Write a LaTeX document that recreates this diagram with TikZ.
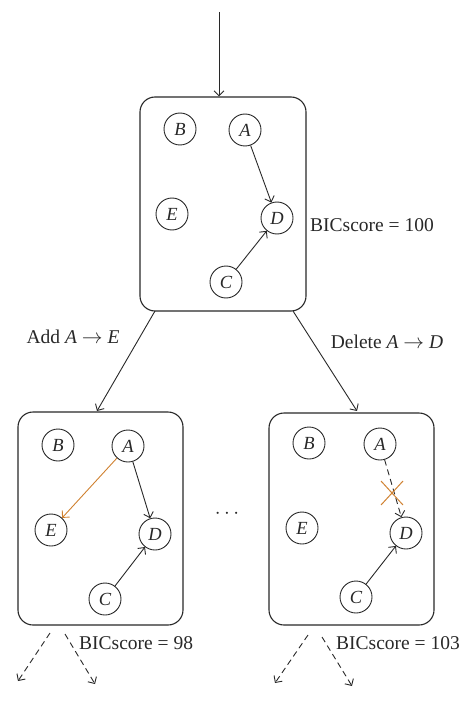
\documentclass[tikz,border=0pt]{standalone}
\usepackage{fontspec}
\setmainfont{Liberation Serif}
\usetikzlibrary{arrows.meta,calc}
\definecolor{edgeorange}{RGB}{208,130,50}
\definecolor{ink}{RGB}{40,40,40}
\tikzset{
  every picture/.style={x=1pt,y=-1pt},
  var/.style={draw=ink,text=ink,circle,line width=0.9pt,minimum size=32pt,inner sep=0pt,font=\fontsize{18.5}{20}\selectfont\itshape},
  box/.style={draw=ink,rounded corners=15pt,line width=1.1pt},
  arr/.style={draw=ink,line width=0.9pt,-{Straight Barb[length=5pt,width=10pt]}},
  dasharr/.style={arr,dashed,dash pattern=on 6pt off 4pt},
  lab/.style={text=ink,font=\fontsize{19.5}{22}\selectfont,inner sep=0pt}
}
\begin{document}
\begin{tikzpicture}
\useasboundingbox (0,0) rectangle (474,703);
% boxes
\node[box,minimum width=166pt,minimum height=214pt] (tb) at (223,204) {};
\node[box,minimum width=165pt,minimum height=213pt] (lb) at (100.5,518.5) {};
\node[box,minimum width=165pt,minimum height=212pt] (rb) at (351.5,519) {};
% top arrow
\coordinate (start) at (219,12);
\draw[arr] (start) -- (start |- tb.north);
% top box nodes
\node[var] (tB) at (180,129) {B};
\node[var] (tA) at (245,130) {A};
\node[var] (tE) at (172,214) {E};
\node[var] (tD) at (277,218) {D};
\node[var] (tC) at (226,282) {C};
\draw[arr] (tA) -- (tD);
\draw[arr] (tC) -- (tD);
\node[lab,anchor=west] (tscore) at (310,225) {BICscore = 100};
% branches
\coordinate (l1) at (155,311);
\coordinate (l2) at (97,411);
\coordinate (r1) at (293,311);
\coordinate (r2) at (357,411);
\draw[arr] (l1) -- (l2);
\draw[arr] (r1) -- (r2);
\node[lab] (addlab) at (73,337) {Add \textit{A} $\rightarrow$ \textit{E}};
\node[lab] (dellab) at (387,342) {Delete \textit{A} $\rightarrow$ \textit{D}};
% left box nodes
\node[var] (lB) at (58,445) {B};
\node[var] (lA) at (128,446) {A};
\node[var] (lE) at (51,530) {E};
\node[var] (lD) at (155,534) {D};
\node[var] (lC) at (105,599) {C};
\draw[arr,draw=edgeorange] (lA) -- (lE);
\draw[arr] (lA) -- (lD);
\draw[arr] (lC) -- (lD);
\node[lab,anchor=west] (lscore) at (79,643) {BICscore = 98};
% dots
\node[lab] (dots) at (227,514) {$\cdots$};
% right box nodes
\node[var] (rB) at (309,443) {B};
\node[var] (rA) at (380,444) {A};
\node[var] (rE) at (302,528) {E};
\node[var] (rD) at (406,533) {D};
\node[var] (rC) at (356,597) {C};
\draw[dasharr] (rA) -- (rD);
\draw[arr] (rC) -- (rD);
\coordinate (x) at (392,493);
\draw[edgeorange,line width=1pt] ($(x)+(-11,-12)$) -- ($(x)+(11,12)$);
\draw[edgeorange,line width=1pt] ($(x)+(-11,12)$) -- ($(x)+(11,-12)$);
\node[lab,anchor=west] (rscore) at (336,643) {BICscore = 103};
% dashed outgoing arrows
\coordinate (la1) at (50,633);
\coordinate (la2) at (18,681);
\coordinate (lb1) at (65,634);
\coordinate (lb2) at (95,684);
\coordinate (ra1) at (308,635);
\coordinate (ra2) at (275,683);
\coordinate (rb1) at (322,637);
\coordinate (rb2) at (352,686);
\draw[dasharr] (la1) -- (la2);
\draw[dasharr] (lb1) -- (lb2);
\draw[dasharr] (ra1) -- (ra2);
\draw[dasharr] (rb1) -- (rb2);
\end{tikzpicture}
\end{document}
